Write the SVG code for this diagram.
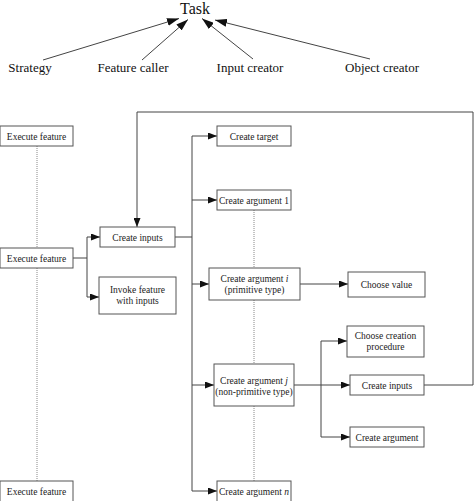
<svg xmlns="http://www.w3.org/2000/svg" width="474" height="501" viewBox="0 0 474 501">
<defs>
<marker id="ah" markerWidth="9" markerHeight="7" refX="9" refY="3.5" orient="auto" markerUnits="userSpaceOnUse"><path d="M0,0 L9,3.5 L0,7 z" fill="#111"/></marker>
<marker id="ahb" markerWidth="12" markerHeight="8" refX="12" refY="4" orient="auto" markerUnits="userSpaceOnUse"><path d="M0,0 L12,4 L0,8 z" fill="#111"/></marker>
<style>
.box{fill:#fff;stroke:#555;stroke-width:1}
.t{font-family:"Liberation Serif","Times New Roman",serif;font-size:9.5px;fill:#222;text-anchor:middle}
.lab{font-family:"Liberation Serif","Times New Roman",serif;font-size:13px;fill:#111;text-anchor:middle}
.c{fill:none;stroke:#444;stroke-width:1}
.d{fill:none;stroke:#888;stroke-width:1;stroke-dasharray:1,1}
</style>
</defs>
<rect width="474" height="501" fill="#fff"/>
<g id="top">
<text x="195" y="14" class="lab" style="font-size:16px">Task</text>
<text x="30" y="72" class="lab">Strategy</text>
<text x="133" y="72" class="lab">Feature caller</text>
<text x="250" y="72" class="lab">Input creator</text>
<text x="382" y="72" class="lab">Object creator</text>
</g>
<g id="connectors">
<line x1="43" y1="60" x2="179" y2="18.5" class="c" marker-end="url(#ahb)"/>
<line x1="142" y1="60" x2="188" y2="19.5" class="c" marker-end="url(#ahb)"/>
<line x1="253" y1="59" x2="202" y2="18.5" class="c" marker-end="url(#ahb)"/>
<line x1="370" y1="59" x2="215" y2="20" class="c" marker-end="url(#ahb)"/>
<line x1="37" y1="146" x2="37" y2="248" class="d"/>
<line x1="37" y1="268" x2="37" y2="481" class="d"/>
<line x1="254" y1="210" x2="254" y2="268" class="d"/>
<line x1="254" y1="300" x2="254" y2="364" class="d"/>
<line x1="254" y1="406" x2="254" y2="481" class="d"/>
<polyline points="73,258 87,258" class="c"/>
<polyline points="87,237 87,297" class="c"/>
<line x1="87" y1="237" x2="100" y2="237" class="c" marker-end="url(#ah)"/>
<line x1="87" y1="297" x2="99" y2="297" class="c" marker-end="url(#ah)"/>
<line x1="175" y1="237" x2="192" y2="237" class="c"/>
<line x1="192" y1="136" x2="192" y2="491" class="c"/>
<line x1="192" y1="136" x2="217" y2="136" class="c" marker-end="url(#ah)"/>
<line x1="192" y1="200" x2="217" y2="200" class="c" marker-end="url(#ah)"/>
<line x1="192" y1="284" x2="209" y2="284" class="c" marker-end="url(#ah)"/>
<line x1="192" y1="385" x2="214" y2="385" class="c" marker-end="url(#ah)"/>
<line x1="192" y1="491" x2="217" y2="491" class="c" marker-end="url(#ah)"/>
<line x1="300" y1="284" x2="348" y2="284" class="c" marker-end="url(#ah)"/>
<line x1="294" y1="385" x2="321" y2="385" class="c"/>
<line x1="321" y1="341" x2="321" y2="437" class="c"/>
<line x1="321" y1="341" x2="347" y2="341" class="c" marker-end="url(#ah)"/>
<line x1="321" y1="385" x2="350" y2="385" class="c" marker-end="url(#ah)"/>
<line x1="321" y1="437" x2="350" y2="437" class="c" marker-end="url(#ah)"/>
<polyline points="424,385 473,385 473,112 137,112 137,227" class="c" marker-end="url(#ah)"/>
</g>
<g id="exec1"><rect x="0" y="126" width="73" height="20" class="box"/><text x="36.5" y="139.5" class="t">Execute feature</text></g>
<g id="exec2"><rect x="0" y="248" width="73" height="20" class="box"/><text x="36.5" y="261.5" class="t">Execute feature</text></g>
<g id="exec3"><rect x="0" y="481" width="73" height="25" class="box"/><text x="36.5" y="494.5" class="t">Execute feature</text></g>
<g id="createInputs1"><rect x="100" y="227" width="75" height="20" class="box"/><text x="137.5" y="240.5" class="t">Create inputs</text></g>
<g id="invoke"><rect x="99" y="277" width="77" height="37" class="box"/><text x="137.5" y="293" class="t">Invoke feature</text><text x="137.5" y="304" class="t">with inputs</text></g>
<g id="createTarget"><rect x="217" y="126" width="74" height="20" class="box"/><text x="254" y="139.5" class="t">Create target</text></g>
<g id="arg1"><rect x="217" y="190" width="74" height="20" class="box"/><text x="254" y="203.5" class="t">Create argument 1</text></g>
<g id="argi"><rect x="209" y="268" width="91" height="32" class="box"/><text x="254.5" y="282" class="t">Create argument <tspan font-style="italic">i</tspan></text><text x="254.5" y="293" class="t">(primitive type)</text></g>
<g id="chooseValue"><rect x="348" y="272" width="77" height="25" class="box"/><text x="386.5" y="287.5" class="t">Choose value</text></g>
<g id="chooseCreation"><rect x="347" y="326" width="77" height="31" class="box"/><text x="385.5" y="339" class="t">Choose creation</text><text x="385.5" y="350" class="t">procedure</text></g>
<g id="argj"><rect x="214" y="364" width="80" height="42" class="box"/><text x="254" y="384" class="t">Create argument <tspan font-style="italic">j</tspan></text><text x="254" y="395" class="t">(non-primitive type)</text></g>
<g id="createInputs2"><rect x="350" y="375" width="74" height="20" class="box"/><text x="387" y="388.5" class="t">Create inputs</text></g>
<g id="createArgument"><rect x="350" y="427" width="74" height="20" class="box"/><text x="387" y="440.5" class="t">Create argument</text></g>
<g id="argn"><rect x="217" y="481" width="74" height="25" class="box"/><text x="254" y="494.5" class="t">Create argument <tspan font-style="italic">n</tspan></text></g>
</svg>
